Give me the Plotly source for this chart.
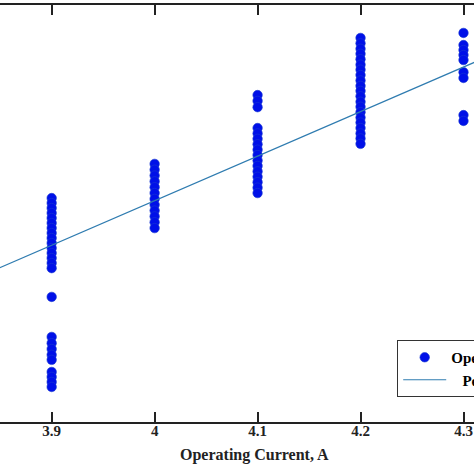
import plotly.graph_objects as go

# Operating current groups (A)
current_39 = [3.9] * 25
vals_39 = [53.7, 52.5, 51.3, 50.1, 48.9, 47.7, 46.5, 45.3, 44.1, 42.9, 41.7, 40.5, 39.3, 38.1, 36.9,
           30.0, 20.4, 18.9, 17.5, 16.1, 14.9, 12.0, 10.8, 9.6, 8.4]
current_40 = [4.0] * 12
vals_40 = [61.9, 60.5, 59.1, 57.7, 56.3, 54.9, 53.5, 52.1, 50.7, 49.3, 47.9, 46.5]
current_41 = [4.1] * 16
vals_41 = [78.4, 77.0, 75.5, 70.5, 69.2, 67.9, 66.6, 65.3, 64.0, 62.7, 61.4, 60.1, 58.8, 57.5, 56.2, 54.9]
current_42 = [4.2] * 21
vals_42 = [92.1, 90.8, 89.5, 88.3, 87.0, 85.7, 84.5, 83.2, 81.9, 80.6, 79.4, 78.1, 76.8, 75.6, 74.3,
           73.0, 71.8, 70.5, 69.2, 68.0, 66.7]
current_43 = [4.3] * 9
vals_43 = [93.3, 90.4, 89.2, 88.0, 86.8, 83.9, 82.5, 73.6, 72.2]

fit_x = [3.8, 4.4]
fit_y = [31.7, 95.8]

tick_vals = [3.9, 4.0, 4.1, 4.2, 4.3]
tick_text = ["3.9", "4", "4.1", "4.2", "4.3"]
x_title = "Operating Current, A"

xs = current_39 + current_40 + current_41 + current_42 + current_43
ys = vals_39 + vals_40 + vals_41 + vals_42 + vals_43

fig = go.Figure()
fig.add_trace(go.Scatter(
    x=xs, y=ys, mode="markers", name="Operating Points",
    marker=dict(color="#0010e8", size=9.5, line=dict(color="#1a3ad0", width=0.6)),
))
fig.add_trace(go.Scatter(
    x=fit_x, y=fit_y, mode="lines", name="\u00a0\u00a0\u00a0Performance Fit",
    line=dict(color="#2f7cb0", width=1.2),
))

serif = "Liberation Serif"
fig.update_layout(
    width=474, height=474,
    margin=dict(l=0, r=0, t=5, b=52, autoexpand=False),
    paper_bgcolor="white", plot_bgcolor="white",
    showlegend=True,
    legend=dict(
        x=0.838, y=0.1966, xanchor="left", yanchor="top",
        bgcolor="white", bordercolor="#333333", borderwidth=1,
        font=dict(family=serif, size=15, color="black", weight="bold"),
        tracegroupgap=0, itemwidth=43,
    ),
    xaxis=dict(
        range=[3.8498, 4.3102],
        tickvals=tick_vals, ticktext=tick_text,
        ticks="inside", ticklen=10, tickwidth=1.5, tickcolor="#222222",
        showline=True, linecolor="#222222", linewidth=2, mirror="ticks",
        showgrid=False, zeroline=False,
        ticklabelstandoff=-6,
        tickfont=dict(family=serif, size=15, color="#222222", weight="bold"),
    ),
    yaxis=dict(
        range=[0, 100], showline=False, showgrid=False, zeroline=False,
        showticklabels=False, ticks="",
    ),
    annotations=[dict(
        text=x_title, x=4.0974, xref="x", y=0, yref="paper", showarrow=False,
        font=dict(family=serif, size=16, color="#222222", weight="bold"),
        xanchor="center", yanchor="middle",
    )],
)
# place title annotation at pixel row 455 (convert to paper coords of plot area)
fig.layout.annotations[0].y = 1 - (455 - 5) / 417

fig.write_html("out.html")
